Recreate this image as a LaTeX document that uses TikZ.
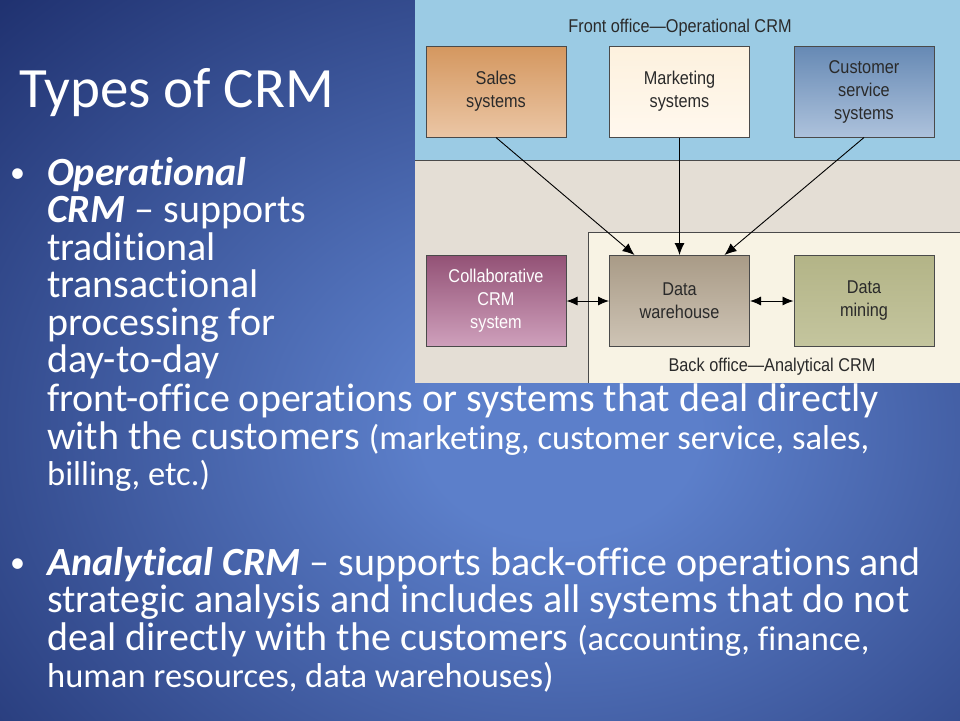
\documentclass[tikz,border=0pt]{standalone}
\usepackage{fontspec}
\setmainfont{Carlito}[Ligatures=NoCommon]
\newfontfamily\figfont[FakeStretch=0.88]{Liberation Sans}
\usetikzlibrary{arrows.meta}
\definecolor{bgin}{HTML}{5C7FCA}
\definecolor{bgout}{HTML}{192966}
\definecolor{frontbg}{HTML}{9BCBE4}
\definecolor{backbg}{HTML}{E4DED5}
\definecolor{panelbg}{HTML}{F8F3E4}
\definecolor{boxline}{HTML}{4A4A4A}
\definecolor{figtxt}{HTML}{2A2A2A}
\definecolor{salestop}{HTML}{D4975F}
\definecolor{salesbot}{HTML}{EBC6A5}
\definecolor{mkttop}{HTML}{FDF1DE}
\definecolor{mktbot}{HTML}{FFF8EE}
\definecolor{custtop}{HTML}{6689B4}
\definecolor{custbot}{HTML}{ADC2DC}
\definecolor{collabtop}{HTML}{935276}
\definecolor{collabbot}{HTML}{CFA0BC}
\definecolor{dwtop}{HTML}{A99B87}
\definecolor{dwbot}{HTML}{CEC4B5}
\definecolor{dmtop}{HTML}{B3B487}
\definecolor{dmbot}{HTML}{C4C59E}
\pgfdeclareradialshading{slidebg}{\pgfpoint{0bp}{0bp}}{color(0bp)=(bgin); color(6bp)=(bgin); color(37bp)=(bgout); color(50bp)=(bgout)}
\newcommand\smtxt{\fontsize{34.5}{37.5}\selectfont}
\tikzset{
  slide_txt/.style = {anchor=base west, inner sep=0pt, text=white,
    font=\fontsize{40}{37.5}\selectfont},% slide text line
  crm_lbl/.style = {inner sep=0pt, text=figtxt,
    font=\figfont\fontsize{18.5}{23}\selectfont},% panel caption
  crm_box/.style = {crm_lbl, draw=boxline, line width=1pt, align=center,
    minimum width=140pt, minimum height=91pt},% system box
  crm_arr/.style = {draw=black, line width=0.9pt,
    -{Latex[length=12pt,width=10pt]}},% one way link
  crm_dbl/.style = {crm_arr,
    {Latex[length=11pt,width=9pt]}-{Latex[length=11pt,width=9pt]}}% two way link
}
\begin{document}
\begin{tikzpicture}[x=1pt, y=-1pt]
  \useasboundingbox (0,0) rectangle (960,720);
  \begin{scope}
    \clip (0,0) rectangle (960,720);
    \shade[shading=slidebg] (-20,-20) rectangle (1140,880);
  \end{scope}
  % figure: front and back office
  \fill[frontbg] (415,0) rectangle (960,160);
  \fill[backbg] (415,160) rectangle (960,383);
  \draw[boxline, line width=1pt] (415,160) -- (960,160);
  \fill[panelbg] (588,232) rectangle (960,383);
  \draw[boxline, line width=1pt] (588,383) -- (588,232) -- (960,232);
  \node[crm_lbl] (front) at (680,28) {Front office—Operational CRM};
  \node[crm_box, top color=salestop, bottom color=salesbot] (sales) at (496,91.5) {Sales\\systems};
  \node[crm_box, top color=mkttop, bottom color=mktbot] (mkt) at (679.5,91.5) {Marketing\\systems};
  \node[crm_box, top color=custtop, bottom color=custbot] (cust) at (864,91.5) {Customer\\service\\systems};
  \node[crm_box, top color=collabtop, bottom color=collabbot, text=white] (collab) at (496,301) {Collaborative\\CRM\\system};
  \node[crm_box, top color=dwtop, bottom color=dwbot] (dw) at (679.5,301) {Data\\warehouse};
  \node[crm_box, top color=dmtop, bottom color=dmbot] (dm) at (864,301) {Data\\mining};
  \node[crm_lbl] (back) at (772,367) {Back office—Analytical CRM};
  \draw[crm_arr] (sales.south) -- ([xshift=-45pt]dw.north);
  \draw[crm_arr] (mkt.south) -- (dw.north);
  \draw[crm_arr] (cust.south) -- ([xshift=45pt]dw.north);
  \draw[crm_dbl] (collab.east) -- (dw.west);
  \draw[crm_dbl] (dw.east) -- (dm.west);
  % slide text
  \node[slide_txt, font=\fontsize{57}{60}\selectfont] (title) at (19,107) {Types of CRM};
  \node[slide_txt, font=\fontsize{30}{30}\selectfont] (bul1) at (10,182) {•};
  \foreach \yy/\txt [count=\i] in {185/{\textbf{\textit{Operational}}},
      222.5/{\textbf{\textit{CRM}} – supports}, 260/{traditional},
      297.5/{transactional}, 335/{processing for}, 372.5/{day-to-day},
      411/{front-office operations or systems that deal directly},
      449/{with the customers {\smtxt(marketing, customer service, sales,}},
      485/{\smtxt billing, etc.)}}
    \node[slide_txt] (opline\i) at (47,\yy) {\txt};
  \node[slide_txt, font=\fontsize{30}{30}\selectfont] (bul2) at (10,572) {•};
  \foreach \yy/\txt [count=\i] in {575/{\textbf{\textit{Analytical CRM}} – supports back-office operations and},
      612.5/{strategic analysis and includes all systems that do not},
      650/{deal directly with the customers {\smtxt(accounting, finance,}},
      687.5/{\smtxt human resources, data warehouses)}}
    \node[slide_txt] (anline\i) at (47,\yy) {\txt};
\end{tikzpicture}
\end{document}
